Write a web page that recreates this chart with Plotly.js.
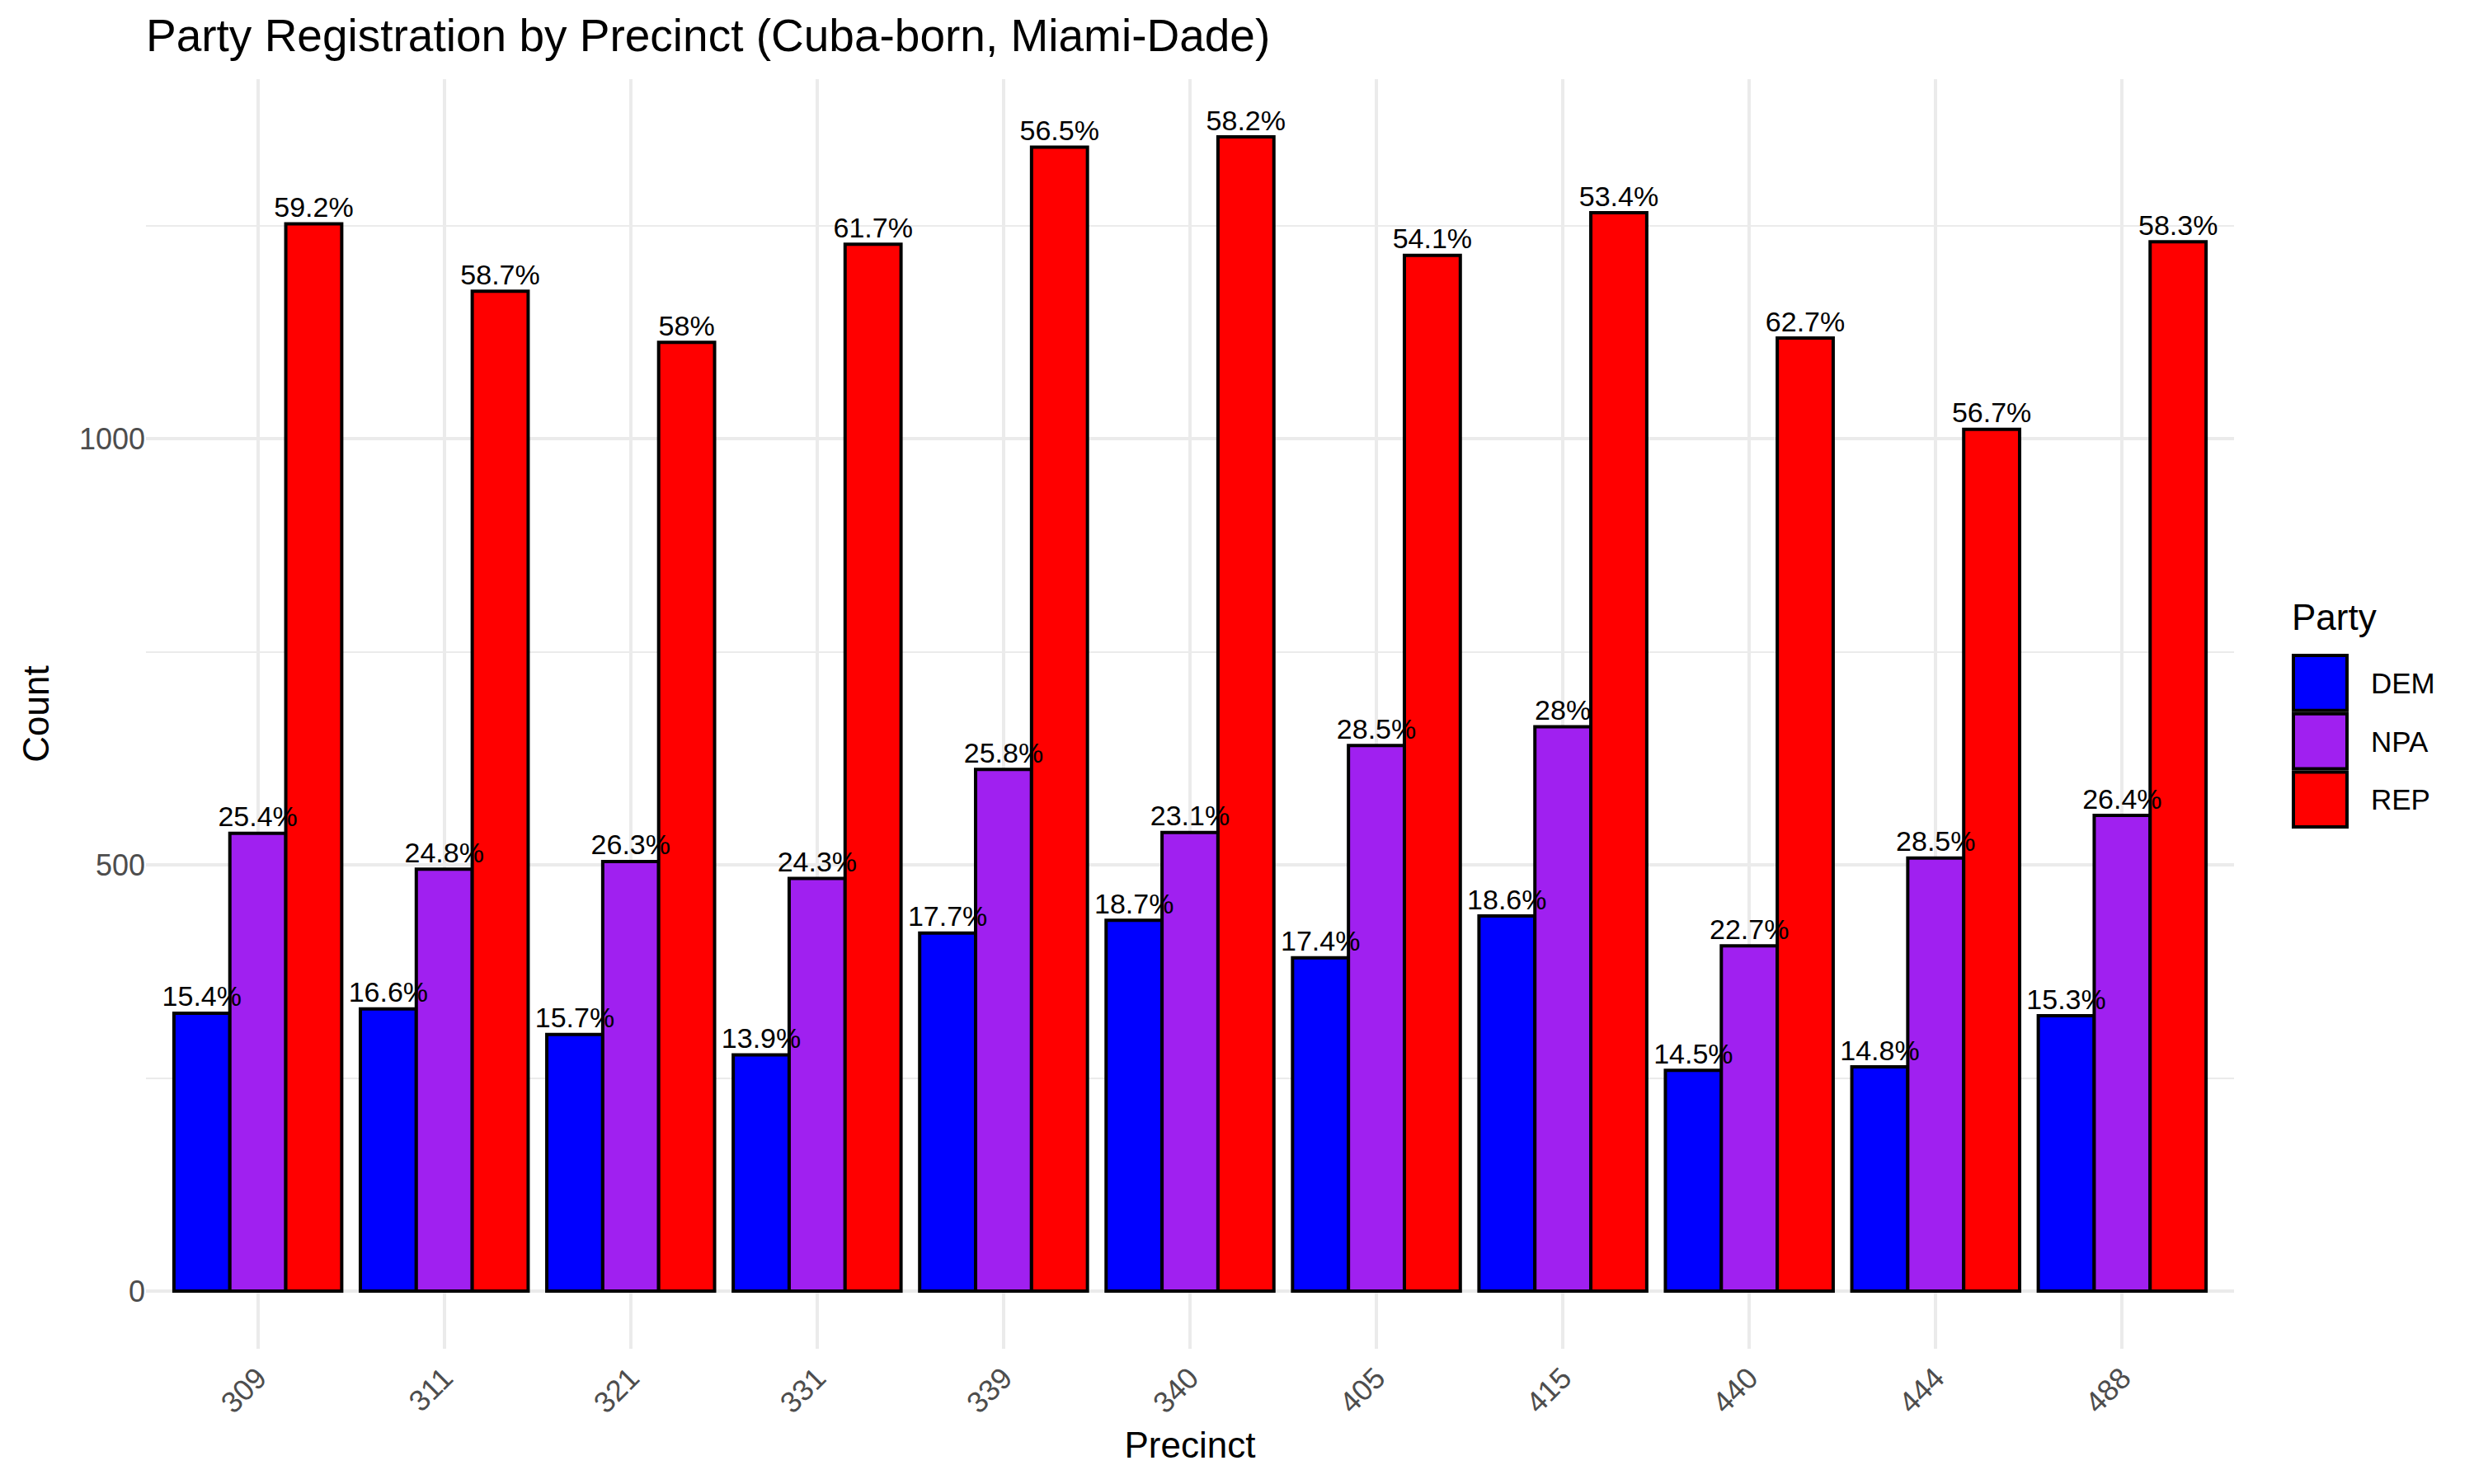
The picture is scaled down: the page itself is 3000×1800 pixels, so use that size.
<!DOCTYPE html>
<html><head><meta charset="utf-8">
<script src="https://cdn.plot.ly/plotly-3.0.1.min.js"></script>
<style>html,body{margin:0;padding:0;background:#fff}</style>
</head><body><div id="chart" style="width:3000px;height:1800px"></div>
<script>
const precincts = ["309","311","321","331","339","340","405","415","440","444","488"];
const parties = ["DEM","NPA","REP"];
const partyColors = ["#0000FF","#A020F0","#FF0000"];
const dem = [326,331,301,277,420,435,391,440,259,263,323];
const npa = [537,495,504,484,612,538,640,662,405,508,558];
const rep = [1252,1173,1113,1228,1342,1354,1215,1265,1118,1011,1231];
const seriesValues = [dem, npa, rep];

const FONT = "Liberation Sans, Arial, Helvetica, sans-serif";
const W = 3000, H = 1800;
const M = {l:177, r:291, t:96, b:164};
const PW = W - M.l - M.r, PH = H - M.t - M.b;
const px = x => (x - M.l) / PW;
const py = y => (H - M.b - y) / PH;

const totals = precincts.map((_, i) => dem[i] + npa[i] + rep[i]);
const barW = 0.3;
const data = [];
const textTraces = [];
parties.forEach((p, k) => {
  const vals = seriesValues[k];
  const xs = precincts.map((_, i) => i + (k - 1) * barW);
  data.push({
    type: "bar", name: p, x: xs, y: vals, width: barW,
    marker: {color: partyColors[k], line: {color: "#000000", width: 4}},
    showlegend: false, hoverinfo: "x+y"
  });
  textTraces.push({
    type: "scatter", mode: "text", x: xs, y: vals,
    text: vals.map((v, i) => (Math.round(v / totals[i] * 1000) / 10) + "%"),
    textposition: "top center",
    textfont: {family: FONT, size: 34, color: "#000000"},
    showlegend: false, hoverinfo: "skip", cliponaxis: false
  });
});

const maxVal = Math.max(...dem, ...npa, ...rep);
const pad = maxVal * 0.05;

const shapes = [];
const annotations = [];
annotations.push({
  text: "Party", xref: "paper", yref: "paper", x: px(2777), y: py(748),
  xanchor: "left", yanchor: "middle", showarrow: false,
  font: {family: FONT, size: 44, color: "#000000"}
});
const keyTop = 793, keyH = 70.7;
parties.forEach((p, k) => {
  const y0 = keyTop + k * keyH;
  shapes.push({
    type: "rect", xref: "paper", yref: "paper",
    x0: px(2781), x1: px(2846), y0: py(y0 + 2), y1: py(y0 + keyH - 2),
    fillcolor: partyColors[k], line: {color: "#000000", width: 4}
  });
  annotations.push({
    text: p, xref: "paper", yref: "paper", x: px(2873), y: py(y0 + keyH / 2),
    xanchor: "left", yanchor: "middle", showarrow: false,
    font: {family: FONT, size: 35, color: "#000000"}
  });
});

const layout = {
  width: W, height: H, margin: M,
  paper_bgcolor: "#FFFFFF", plot_bgcolor: "#FFFFFF",
  barmode: "overlay", showlegend: false,
  font: {family: FONT, color: "#000000"},
  title: {
    text: "Party Registration by Precinct (Cuba-born, Miami-Dade)",
    xref: "paper", x: 0, xanchor: "left",
    yref: "container", y: 1 - 43 / H, yanchor: "middle",
    font: {family: FONT, size: 55, color: "#000000"}
  },
  xaxis: {
    range: [-0.6, precincts.length - 0.4],
    tickmode: "array", tickvals: precincts.map((_, i) => i), ticktext: precincts,
    tickangle: -45, ticks: "", showline: false, zeroline: false,
    ticklabelstandoff: 6,
    tickfont: {family: FONT, size: 36, color: "#4D4D4D"},
    showgrid: true, gridcolor: "#EBEBEB", gridwidth: 4,
    automargin: false,
    title: {text: "Precinct", font: {family: FONT, size: 44, color: "#000000"}, standoff: 16}
  },
  yaxis: {
    range: [-pad, maxVal + pad],
    tickmode: "linear", tick0: 0, dtick: 500,
    ticks: "", showline: false, zeroline: false,
    tickfont: {family: FONT, size: 36, color: "#4D4D4D"},
    showgrid: true, gridcolor: "#EBEBEB", gridwidth: 4,
    minor: {tick0: 0, dtick: 250, showgrid: true, gridcolor: "#EBEBEB", gridwidth: 2, ticks: ""},
    automargin: false,
    title: {text: "Count", font: {family: FONT, size: 44, color: "#000000"}, standoff: 22}
  },
  shapes: shapes,
  annotations: annotations
};

Plotly.newPlot("chart", data.concat(textTraces), layout, {displayModeBar: false});
</script>
</body></html>
